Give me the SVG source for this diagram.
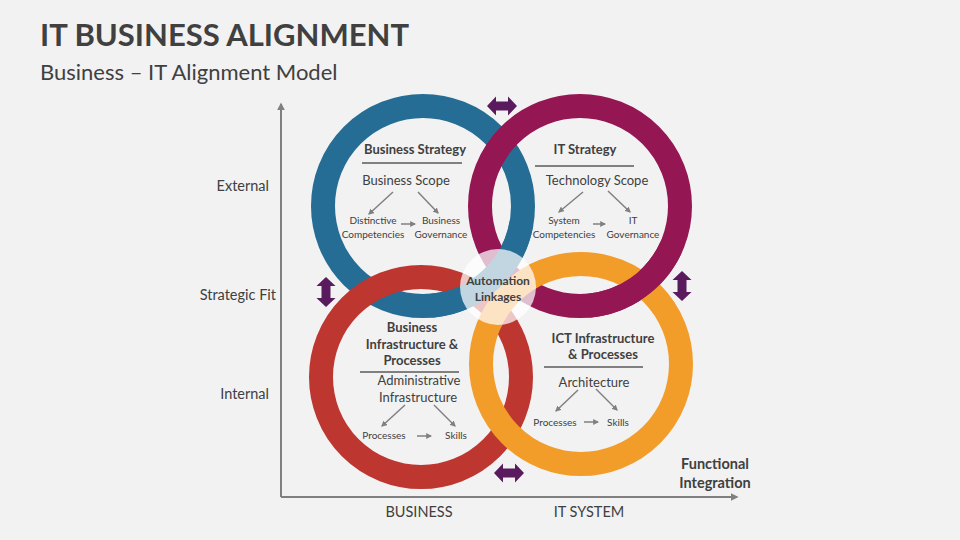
<svg xmlns="http://www.w3.org/2000/svg" width="960" height="540" viewBox="0 0 960 540">
<defs>
<style>
.t{font-family:Lato,"Liberation Sans",sans-serif;fill:#404040}
.b{font-weight:bold}
.c{text-anchor:middle}
.r{text-anchor:end}
.ring{fill:none;stroke-width:24}
.ax{stroke:#808080;stroke-width:2;fill:none}
.sa{stroke:#808080;stroke-width:1.5;fill:none}
.ul{stroke:#808080;stroke-width:2}
.pa{fill:#5A1B5E}
</style>
<marker id="ah" viewBox="0 0 10 10" refX="8" refY="5" markerWidth="4" markerHeight="4" orient="auto" markerUnits="strokeWidth">
<path d="M0,0 L10,5 L0,10 z" fill="#808080"/>
</marker>
<marker id="axh" viewBox="0 0 10 10" refX="8" refY="5" markerWidth="4" markerHeight="4" orient="auto" markerUnits="strokeWidth">
<path d="M0,0 L10,5 L0,10 z" fill="#808080"/>
</marker>
<path id="dbl" d="M-15,0 L-6,-9.5 L-6,-4.5 L6,-4.5 L6,-9.5 L15,0 L6,9.5 L6,4.5 L-6,4.5 L-6,9.5 Z"/>
</defs>
<rect width="960" height="540" fill="#F2F2F2"/>

<text class="t b" x="40" y="46" font-size="31">IT BUSINESS ALIGNMENT</text>
<text class="t" x="40" y="80" font-size="22">Business – IT Alignment Model</text>

<g id="axes">
<line class="ax" x1="281" y1="497" x2="281" y2="104" marker-end="url(#axh)"/>
<line class="ax" x1="281" y1="497" x2="737" y2="497" marker-end="url(#axh)"/>
<text class="t r" x="269" y="191" font-size="14.5">External</text>
<text class="t r" x="276" y="300" font-size="14.5">Strategic Fit</text>
<text class="t r" x="269" y="399" font-size="14.5">Internal</text>
<text class="t c" x="419" y="517" font-size="14.5">BUSINESS</text>
<text class="t c" x="589" y="517" font-size="14.5">IT SYSTEM</text>
<text class="t b c" x="715" y="469" font-size="14.5">Functional</text>
<text class="t b c" x="715" y="488" font-size="14.5">Integration</text>
</g>

<g id="rings">
<circle id="ring-blue" class="ring" cx="423" cy="206" r="100" stroke="#256D94"/>
<circle id="ring-red" class="ring" cx="421" cy="377" r="100" stroke="#BE3630"/>
<circle id="ring-magenta" class="ring" cx="580" cy="206" r="100" stroke="#941652"/>
<circle id="ring-orange" class="ring" cx="581" cy="364" r="100" stroke="#F29C2A"/>
<path class="ring" stroke="#256D94" d="M521.48,223.36 A100,100 0 0 1 431.72,305.62"/>
<path class="ring" stroke="#941652" d="M670.63,248.26 A100,100 0 0 1 588.72,305.62"/>
</g>

<g id="automation">
<circle cx="498" cy="287" r="38" fill="#FFFFFF" fill-opacity="0.72"/>
<text class="t b c" x="498" y="285" font-size="12">Automation</text>
<text class="t b c" x="498" y="301" font-size="12">Linkages</text>
</g>

<g id="fit-arrows">
<use href="#dbl" class="pa" transform="translate(502,106)"/>
<use href="#dbl" class="pa" transform="translate(326,292) rotate(90)"/>
<use href="#dbl" class="pa" transform="translate(682,286) rotate(90)"/>
<use href="#dbl" class="pa" transform="translate(509,473)"/>
</g>

<g id="business-strategy">
<text class="t b c" x="415" y="154" font-size="13">Business Strategy</text>
<line class="ul" x1="362" y1="163" x2="462" y2="163"/>
<text class="t c" x="406" y="185" font-size="13">Business Scope</text>
<text class="t c" x="373" y="224" font-size="10">Distinctive</text>
<text class="t c" x="373" y="238" font-size="10">Competencies</text>
<text class="t c" x="441" y="224" font-size="10">Business</text>
<text class="t c" x="441" y="238" font-size="10">Governance</text>
</g>

<g id="it-strategy">
<text class="t b c" x="585" y="154" font-size="13">IT Strategy</text>
<line class="ul" x1="535" y1="166" x2="634" y2="166"/>
<text class="t c" x="597" y="185" font-size="13">Technology Scope</text>
<text class="t c" x="564" y="224" font-size="10">System</text>
<text class="t c" x="564" y="238" font-size="10">Competencies</text>
<text class="t c" x="633" y="224" font-size="10">IT</text>
<text class="t c" x="633" y="238" font-size="10">Governance</text>
</g>

<g id="business-infrastructure">
<text class="t b c" x="412" y="332" font-size="13">Business</text>
<text class="t b c" x="412" y="349" font-size="13">Infrastructure &amp;</text>
<text class="t b c" x="412" y="365" font-size="13">Processes</text>
<line class="ul" x1="360" y1="372" x2="459" y2="372"/>
<text class="t c" x="419" y="385" font-size="13">Administrative</text>
<text class="t c" x="418" y="402" font-size="13">Infrastructure</text>
<text class="t c" x="384" y="439" font-size="10">Processes</text>
<text class="t c" x="456" y="439" font-size="10">Skills</text>
</g>

<g id="ict-infrastructure">
<text class="t b c" x="603" y="343" font-size="13">ICT Infrastructure</text>
<text class="t b c" x="603" y="359" font-size="13">&amp; Processes</text>
<line class="ul" x1="544" y1="367" x2="643" y2="367"/>
<text class="t c" x="594" y="387" font-size="13">Architecture</text>
<text class="t c" x="555" y="426" font-size="10">Processes</text>
<text class="t c" x="618" y="426" font-size="10">Skills</text>
</g>

<g id="connectors">
<line class="sa" x1="393" y1="192" x2="369" y2="214" marker-end="url(#ah)"/>
<line class="sa" x1="418" y1="192" x2="438" y2="213" marker-end="url(#ah)"/>
<line class="sa" x1="401" y1="224" x2="415" y2="224" marker-end="url(#ah)"/>
<line class="sa" x1="583" y1="192" x2="559" y2="212" marker-end="url(#ah)"/>
<line class="sa" x1="608" y1="191" x2="630" y2="212" marker-end="url(#ah)"/>
<line class="sa" x1="593" y1="224" x2="605" y2="224" marker-end="url(#ah)"/>
<line class="sa" x1="405" y1="405" x2="382" y2="426" marker-end="url(#ah)"/>
<line class="sa" x1="434" y1="405" x2="455" y2="426" marker-end="url(#ah)"/>
<line class="sa" x1="417" y1="436" x2="431" y2="436" marker-end="url(#ah)"/>
<line class="sa" x1="578" y1="390" x2="556" y2="411" marker-end="url(#ah)"/>
<line class="sa" x1="596" y1="389" x2="617" y2="410" marker-end="url(#ah)"/>
<line class="sa" x1="584" y1="422" x2="598" y2="422" marker-end="url(#ah)"/>
</g>
</svg>
